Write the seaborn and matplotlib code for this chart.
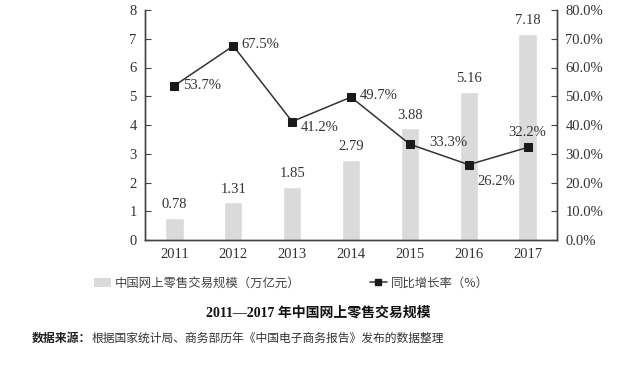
import numpy as np
import pandas as pd
import matplotlib
matplotlib.use('Agg')
import matplotlib.pyplot as plt
import seaborn as sns
from matplotlib.patches import Patch
from matplotlib.lines import Line2D

# data
years = ['2011', '2012', '2013', '2014', '2015', '2016', '2017']
scale = [0.78, 1.31, 1.85, 2.79, 3.88, 5.16, 7.18]          # 万亿元
growth = [53.7, 67.5, 41.2, 49.7, 33.3, 26.2, 32.2]          # %
bar_labels = ['0.78', '1.31', '1.85', '2.79', '3.88', '5.16', '7.18']
rate_labels = ['53.7%', '67.5%', '41.2%', '49.7%', '33.3%', '26.2%', '32.2%']

df = pd.DataFrame({'year': years, 'scale': scale, 'growth': growth})

sns.set_style('white')
serif = ['Liberation Serif', 'Noto Sans CJK SC']
cjk = ['Noto Sans CJK SC', 'DejaVu Sans']
plt.rcParams['font.family'] = serif
txt = '#333333'

fig = plt.figure(figsize=(6.4, 3.69), dpi=100)
ax = fig.add_axes([145 / 640, 1 - 240 / 369, (557 - 145) / 640, 230 / 369])

sns.barplot(data=df, x='year', y='scale', color='#dadada', width=0.31,
            saturation=1, ax=ax)
ax.set_ylim(0, 8)
ax.set_xlim(-0.5, 6.5)
ax.set_yticks(range(0, 9))
ax.set_xlabel('')
ax.set_ylabel('')

for i, v in enumerate(scale):
    ax.text(i, v + 0.22, bar_labels[i], ha='center', va='bottom',
            fontsize=10.5, color=txt)

ax2 = ax.twinx()
sns.lineplot(data=df, x='year', y='growth', color='#333333', lw=1.1,
             marker='s', markersize=6, markerfacecolor='#1a1a1a',
             markeredgecolor='#1a1a1a', ax=ax2)
ax2.set_ylim(0, 80)
ax2.set_yticks(range(0, 90, 10))
ax2.set_yticklabels(['%.1f%%' % t for t in range(0, 90, 10)])
ax2.set_ylabel('')
ax2.set_xlim(-0.5, 6.5)

# label offsets (points) for growth values
offs = [(6, 0, 'left', 'center'), (6, 1, 'left', 'center'), (6, -4, 'left', 'center'),
        (6, 1, 'left', 'center'), (14, 1, 'left', 'center'), (6, -12, 'left', 'center'),
        (0, 6, 'center', 'bottom')]
for i, v in enumerate(growth):
    dx, dy, ha, va = offs[i]
    ax2.annotate(rate_labels[i], (i, v), xytext=(dx, dy), textcoords='offset points',
                 ha=ha, va=va, fontsize=10.5, color=txt)

for a in (ax, ax2):
    a.spines['top'].set_visible(False)
    for s in ('left', 'right', 'bottom'):
        a.spines[s].set_color('#444444')
        a.spines[s].set_linewidth(1.0)
ax.tick_params(axis='y', direction='in', length=4, color='#444444', labelsize=10.5,
               labelcolor=txt, pad=6)
ax.tick_params(axis='x', length=0, labelsize=10.5, labelcolor=txt, pad=6)
ax2.tick_params(axis='y', direction='in', length=4, color='#444444', labelsize=10.5,
                labelcolor=txt, pad=6)

handles = [Patch(facecolor='#dadada', edgecolor='none'),
           Line2D([], [], color='#333333', lw=1.1, marker='s', markersize=4.5,
                  markerfacecolor='#1a1a1a', markeredgecolor='#1a1a1a')]
fig.legend(handles, ['中国网上零售交易规模（万亿元）', '同比增长率（%）'],
           loc='center', bbox_to_anchor=(0.455, 1 - 283 / 369), ncol=2,
           frameon=False, columnspacing=5.6, handlelength=1.4, handletextpad=0.3,
           prop={'family': cjk, 'size': 8.9}, labelcolor='#444444')

fig.text(0.497, 1 - 313 / 369, '2011—2017 年中国网上零售交易规模', ha='center',
         va='center', fontsize=10, fontweight='bold', family=serif, color='#111111')
fig.text(32 / 640, 1 - 338 / 369, '数据来源：', ha='left', va='center', fontsize=8.6,
         fontweight='bold', family=cjk, color='#222222')
fig.text(92 / 640, 1 - 338 / 369, '根据国家统计局、商务部历年《中国电子商务报告》发布的数据整理',
         ha='left', va='center', fontsize=8.5, family=cjk, color='#333333')

plt.savefig('out.png', dpi=100)
